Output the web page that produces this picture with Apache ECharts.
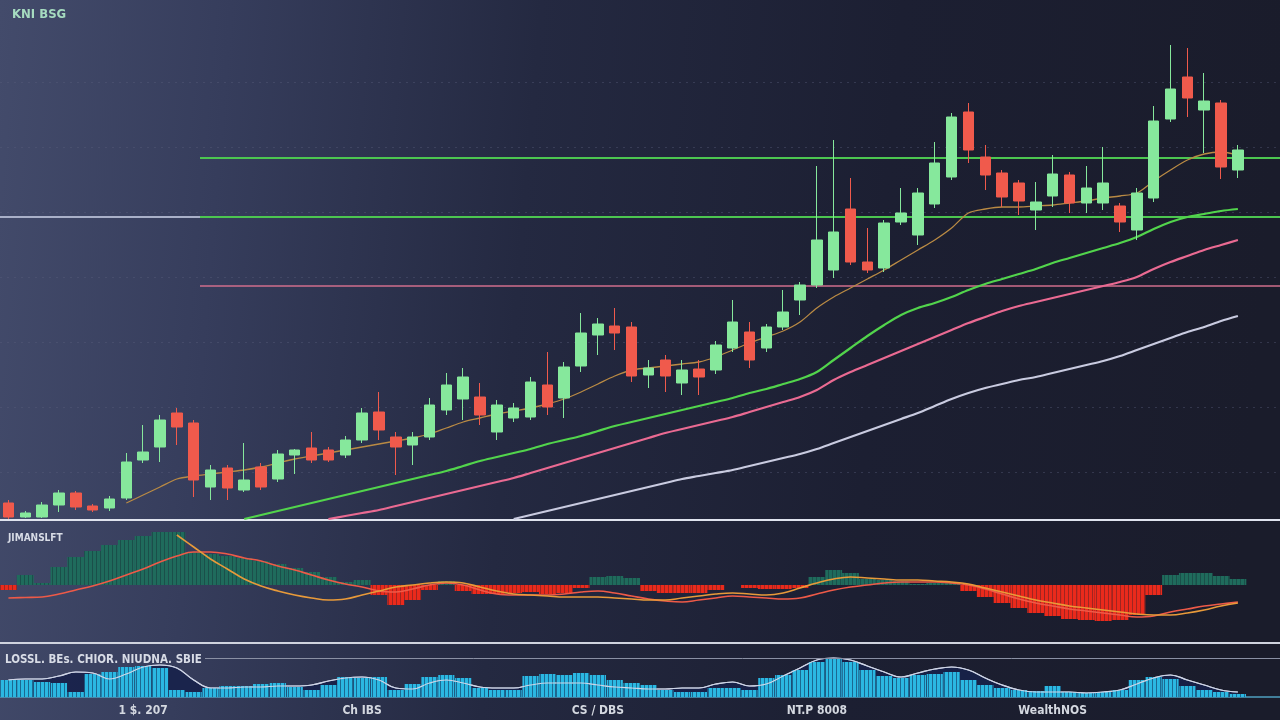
<!DOCTYPE html>
<html><head><meta charset="utf-8">
<script src="https://cdn.jsdelivr.net/npm/echarts@6/dist/echarts.min.js"></script>
<style>html,body{margin:0;padding:0;background:#1b1e30}#c{width:1280px;height:720px}</style>
</head><body><div id="c"></div>
<script>
// ---- price candles ----
const opens  = [11.7,10.3,10.3,11.5,12.7,11.4,11.2,12.2,16.0,17.3,20.7,19.7,13.3,15.2,13.0,15.3,14.1,16.5,17.2,17.0,16.5,18.0,20.8,18.3,17.5,18.3,21.0,22.1,22.3,18.8,20.2,20.3,23.5,22.2,25.4,28.5,29.4,29.3,24.5,26.0,23.7,25.1,25.0,27.2,28.8,27.2,29.3,32.0,33.5,35.0,41.1,35.8,35.2,39.8,38.5,41.6,44.3,50.8,46.3,44.7,43.7,41.0,42.4,44.5,41.7,41.7,41.4,39.0,42.2,50.1,54.3,51.0,51.7,45.0];
const closes = [10.3,10.7,11.5,12.7,11.3,11.0,12.1,15.8,16.8,20.0,19.3,14.0,15.0,13.2,14.0,13.3,16.6,17.0,16.0,16.0,18.0,20.7,19.0,17.3,18.3,21.5,23.5,24.3,20.5,21.5,21.2,23.8,21.3,25.3,28.7,29.6,28.7,24.4,25.2,24.4,25.0,24.3,27.5,29.8,26.0,29.3,30.8,33.5,38.0,38.8,35.8,35.0,39.7,40.7,42.7,45.7,50.3,47.0,44.5,42.3,41.9,41.8,44.6,41.7,43.2,43.7,39.8,42.7,49.9,53.1,52.2,51.9,45.3,47.0];
const lows   = [10.1,10.2,10.2,10.8,11.0,10.8,10.9,12.0,15.7,15.8,17.5,12.3,12.0,12.0,12.8,13.0,13.8,14.6,15.7,15.8,16.2,17.7,18.0,14.5,15.5,18.0,20.5,20.0,19.5,18.0,19.8,20.0,20.5,20.2,24.8,26.5,27.0,23.8,23.2,22.8,22.5,22.5,24.6,26.8,25.2,26.8,29.0,30.5,33.2,34.2,35.5,34.7,34.8,39.5,37.5,41.2,44.0,45.7,43.0,41.3,40.5,39.0,41.3,40.7,40.7,41.0,38.8,38.0,41.8,49.8,50.3,46.7,44.1,44.2];
const highs  = [12.0,10.9,11.8,13.0,12.9,11.6,12.4,16.7,19.5,20.5,21.2,20.0,15.5,15.5,17.7,15.7,17.0,17.1,18.8,17.3,18.4,21.2,22.8,18.8,18.8,22.2,24.7,25.2,23.7,22.0,21.7,24.3,26.8,25.8,30.7,30.2,31.2,29.8,26.0,26.5,26.0,26.0,27.9,32.0,29.8,29.6,33.0,33.8,45.4,48.0,44.2,39.2,40.0,43.2,43.2,47.8,50.7,51.7,47.5,45.0,44.0,43.8,46.5,44.8,45.4,47.3,41.7,43.2,51.4,57.5,57.2,54.7,52.0,47.5];

// ---- moving averages ----
const maShort = [null,null,null,null,null,null,null,11.7,12.5,13.3,14.1,14.4,14.6,14.8,15.0,15.3,15.7,16.1,16.4,16.7,17.0,17.3,17.6,17.9,18.2,18.6,19.2,19.8,20.2,20.6,20.9,21.2,21.6,22.1,22.8,23.6,24.4,25.0,25.2,25.4,25.6,25.8,26.3,27.0,27.7,28.3,28.9,29.8,31.2,32.3,33.2,34.1,35.0,36.0,37.0,38.0,39.2,40.7,41.1,41.3,41.3,41.4,41.5,41.7,41.9,42.2,42.4,42.7,43.9,45.0,46.0,46.6,46.8,46.5];
const maGreen = [null,null,null,null,null,null,null,null,null,null,null,null,null,null,10.1,10.5,10.9,11.3,11.7,12.1,12.5,12.9,13.3,13.7,14.1,14.5,14.9,15.4,15.9,16.3,16.7,17.1,17.6,18.0,18.4,18.9,19.4,19.8,20.2,20.6,21.0,21.4,21.8,22.2,22.7,23.1,23.6,24.1,24.8,26.0,27.2,28.4,29.5,30.5,31.2,31.7,32.3,33.0,33.6,34.1,34.6,35.1,35.7,36.2,36.7,37.2,37.7,38.3,39.1,39.8,40.3,40.6,40.9,41.1];
const maPink = [null,null,null,null,null,null,null,null,null,null,null,null,null,null,null,null,null,null,null,10.1,10.4,10.7,11.0,11.4,11.8,12.2,12.6,13.0,13.4,13.8,14.2,14.7,15.2,15.7,16.2,16.7,17.2,17.7,18.2,18.7,19.1,19.5,19.9,20.3,20.8,21.3,21.8,22.3,23.0,24.0,24.8,25.5,26.2,26.9,27.6,28.3,29.0,29.7,30.3,30.9,31.4,31.8,32.2,32.6,33.0,33.4,33.8,34.3,35.1,35.8,36.4,37.0,37.5,38.0];
const maGrey = [null,null,null,null,null,null,null,null,null,null,null,null,null,null,null,null,null,null,null,null,null,null,null,null,null,null,null,null,null,null,10.1,10.5,10.9,11.3,11.7,12.1,12.5,12.9,13.3,13.7,14.1,14.4,14.7,15.0,15.4,15.8,16.2,16.6,17.1,17.7,18.3,18.9,19.5,20.1,20.7,21.4,22.1,22.7,23.2,23.6,24.0,24.3,24.7,25.1,25.5,25.9,26.4,27.0,27.6,28.2,28.8,29.3,29.9,30.4];
const levels = [46.2, 40.3, 33.4];

// ---- MACD ----
const macdHist = [-0.5,1.0,0.2,1.8,2.8,3.4,4.0,4.5,4.9,5.3,5.3,3.3,3.1,2.9,2.7,2.4,2.1,1.7,1.3,0.8,0.3,0.5,-1.0,-2.0,-1.5,-0.5,0.4,-0.6,-0.9,-0.9,-0.8,-0.7,-0.9,-0.8,-0.3,0.8,0.9,0.7,-0.6,-0.8,-0.8,-0.8,-0.5,0.0,-0.3,-0.4,-0.4,-0.3,0.8,1.5,1.2,0.6,0.5,0.4,0.1,0.2,0.3,-0.6,-1.2,-1.8,-2.3,-2.8,-3.1,-3.4,-3.5,-3.6,-3.5,-3.0,-1.0,1.0,1.2,1.2,0.9,0.6];
const dif = [-1.3,-1.25,-1.2,-0.9,-0.5,-0.1,0.4,1.0,1.6,2.3,2.9,3.3,3.3,3.1,2.7,2.4,1.9,1.5,1.0,0.5,0.1,-0.2,-0.6,-0.7,-0.4,0.0,0.2,0.0,-0.5,-0.9,-1.0,-1.0,-1.0,-0.9,-0.7,-0.6,-0.8,-1.1,-1.4,-1.6,-1.7,-1.5,-1.3,-1.1,-1.2,-1.3,-1.4,-1.3,-0.9,-0.5,-0.2,0.0,0.2,0.3,0.3,0.3,0.2,0.0,-0.4,-0.9,-1.4,-1.8,-2.1,-2.4,-2.6,-2.8,-3.0,-3.2,-3.1,-2.7,-2.4,-2.1,-1.9,-1.7];
const dea = [null,null,null,null,null,null,null,null,null,null,5.0,3.8,2.6,1.6,0.6,-0.1,-0.6,-1.0,-1.3,-1.5,-1.4,-1.0,-0.6,-0.2,0.0,0.2,0.3,0.2,-0.2,-0.6,-0.9,-1.0,-1.1,-1.2,-1.2,-1.2,-1.3,-1.4,-1.5,-1.5,-1.3,-1.1,-0.9,-0.8,-0.9,-1.0,-0.8,-0.3,0.2,0.6,0.8,0.7,0.6,0.5,0.5,0.4,0.3,0.1,-0.3,-0.7,-1.1,-1.5,-1.8,-2.1,-2.3,-2.5,-2.7,-2.9,-3.0,-3.0,-2.8,-2.5,-2.1,-1.8];

// ---- volume ----
const volume = [1700,1700,1500,1400,500,2300,2500,3000,3100,2900,700,500,900,1100,1100,1300,1400,1000,700,1200,2000,1900,2000,700,1300,2000,2200,1900,900,700,700,2100,2300,2200,2400,2200,1700,1400,1200,700,500,500,900,900,700,1900,2200,2700,3500,3900,3500,2700,2100,1900,2200,2300,2500,1700,1200,900,700,600,1100,500,400,500,700,1700,2000,1800,1100,700,500,300];
const volumeLine = [1700,1800,1800,2100,2500,2400,1800,2300,3000,3200,2900,1700,900,900,1000,1000,1100,1100,1200,1600,1900,2000,1700,900,800,1400,1700,1400,1000,900,900,1200,1400,1400,1400,1200,1000,900,800,800,900,900,1300,1500,1100,1300,2100,2900,3700,3900,3700,3100,2500,2000,2400,2800,3000,2700,1900,1200,700,500,500,500,400,500,700,1300,1900,2200,1700,1200,700,500];
const volumeRule = 3900;

// ---- labels ----
const tickIndex = [8, 21, 35, 48, 62];
const tickText = ['1 $. 207', 'Ch IBS', 'CS / DBS', 'NT.P 8008', 'WealthNOS'];
const titleMain = 'KNI BSG';
const titleMacd = 'JIMANSLFT';
const titleVolume = 'LOSSL. BEs. CHIOR. NIUDNA. SBIE';
const categories = [];
for (let i = 0; i < 76; i++) categories.push('P' + (i + 1));
const LAST = categories.length - 1;

const candles = opens.map((o, i) => [o, closes[i], lows[i], highs[i]]);

const FONT = "'Liberation Sans Narrow','DejaVu Sans Condensed',sans-serif";
const chart = echarts.init(document.getElementById('c'), null, {renderer: 'canvas'});

function hiddenX(grid, extra) {
  return Object.assign({
    type: 'category', gridIndex: grid, data: categories, boundaryGap: true,
    axisLabel: {show: false}, axisTick: {show: false}, splitLine: {show: false},
    axisLine: {show: false, onZero: false}
  }, extra || {});
}
function lvl(v, x0, x1, color, width) {
  return [{x: x0, coord: [0, v], lineStyle: {color: color, width: width, type: 'solid'}}, {x: x1, coord: [LAST, v]}];
}
const stripes = (c) => ({symbol: 'rect', symbolSize: 1, dashArrayX: [[1, 3]], dashArrayY: [6, 0], color: c});

chart.setOption({
  animation: false,
  backgroundColor: {type: 'linear', x: 0, y: 0, x2: 1, y2: 0.15, colorStops: [
    {offset: 0, color: '#434b6b'}, {offset: 0.18, color: '#363d5c'},
    {offset: 0.42, color: '#242941'}, {offset: 0.7, color: '#1c1f32'}, {offset: 1, color: '#1a1c2b'}]},
  title: [
    {text: titleMain, left: 7, top: 3, textStyle: {color: '#a6dcc0', fontSize: 13, fontWeight: 'bold', fontFamily: FONT}},
    {text: titleMacd, left: 3, top: 528, textStyle: {color: '#d8dce6', fontSize: 10, fontWeight: 'bold', fontFamily: FONT}},
    {text: titleVolume, left: 0, top: 649, textStyle: {color: '#d8dce6', fontSize: 11.5, fontWeight: 'bold', fontFamily: FONT}}
  ],
  grid: [
    {left: 0, right: 0, top: 17, bottom: 183},
    {left: 0, right: 0, top: 520, bottom: 77},
    {left: 0, right: 0, top: 650, bottom: 23}
  ],
  xAxis: [
    hiddenX(0),
    hiddenX(1, {position: 'top', axisLine: {show: true, onZero: false, lineStyle: {color: '#dfe3ee', width: 2}}}),
    hiddenX(1, {position: 'bottom', axisLine: {show: true, onZero: false, lineStyle: {color: '#cfd3de', width: 2}}}),
    hiddenX(2, {position: 'bottom',
      axisLine: {show: true, onZero: false, lineStyle: {color: '#4f9fc0', width: 1.5}},
      axisLabel: {show: true, interval: 0, margin: 8, color: '#d4d8e0', fontSize: 12, fontWeight: 'bold', fontFamily: FONT,
        formatter: (v, idx) => { const k = tickIndex.indexOf(idx); return k >= 0 ? tickText[k] : ''; }}})
  ],
  yAxis: [
    {type: 'value', gridIndex: 0, min: 8.3, max: 60.3, interval: 6.5, axisLabel: {show: false}, axisLine: {show: false}, axisTick: {show: false},
      splitLine: {show: true, showMinLine: false, showMaxLine: false, lineStyle: {color: '#59607e', type: [2, 5], width: 1, opacity: 0.4}}},
    {type: 'value', gridIndex: 1, min: -5.8, max: 6.5, show: false},
    {type: 'value', gridIndex: 2, min: 0, max: 4700, show: false}
  ],
  series: [
    {type: 'candlestick', name: 'Price', xAxisIndex: 0, yAxisIndex: 0, data: candles, barWidth: 11, z: 5,
      itemStyle: {color: '#86e89c', color0: '#f05a4c', borderColor: '#86e89c', borderColor0: '#f05a4c', borderWidth: 1},
      markLine: {symbol: 'none', silent: true, label: {show: false}, animation: false, z: 2,
        data: [
          lvl(levels[0], 200, 1280, '#4cc650', 2),
          lvl(levels[1], 200, 1280, '#4cc650', 2),
          lvl(levels[1], 0, 200, '#a9b0c8', 2),
          lvl(levels[2], 200, 1280, '#d06e8c', 1.5)
        ]}},
    {type: 'line', name: 'MA short', xAxisIndex: 0, yAxisIndex: 0, data: maShort, smooth: 0.3, symbol: 'none', z: 4,
      lineStyle: {color: '#b98a44', width: 1.3}},
    {type: 'line', name: 'MA green', xAxisIndex: 0, yAxisIndex: 0, data: maGreen, smooth: 0.3, symbol: 'none', z: 3,
      lineStyle: {color: '#52d44c', width: 2.2}},
    {type: 'line', name: 'MA pink', xAxisIndex: 0, yAxisIndex: 0, data: maPink, smooth: 0.3, symbol: 'none', z: 3,
      lineStyle: {color: '#ea6a92', width: 2.2}},
    {type: 'line', name: 'MA grey', xAxisIndex: 0, yAxisIndex: 0, data: maGrey, smooth: 0.3, symbol: 'none', z: 3,
      lineStyle: {color: '#c9cbe0', width: 2.2}},

    {type: 'bar', name: 'MACD', xAxisIndex: 1, yAxisIndex: 1, data: macdHist, barCategoryGap: '0%',
      itemStyle: {color: p => p.value >= 0 ? '#1f6b5c' : '#ea2a1c', decal: stripes('rgba(20,30,40,0.35)')}},
    {type: 'line', name: 'DIF', xAxisIndex: 1, yAxisIndex: 1, data: dif, smooth: 0.4, symbol: 'none',
      lineStyle: {color: '#ee5a48', width: 1.6}},
    {type: 'line', name: 'DEA', xAxisIndex: 1, yAxisIndex: 1, data: dea, smooth: 0.4, symbol: 'none',
      lineStyle: {color: '#e89a3a', width: 1.6}},

    {type: 'line', name: 'Volume trend', xAxisIndex: 3, yAxisIndex: 2, data: volumeLine, smooth: 0.4, symbol: 'none', z: 1,
      lineStyle: {color: '#c4cbe0', width: 1.2}, areaStyle: {color: '#17214a', opacity: 0.9}},
    {type: 'bar', name: 'Volume', xAxisIndex: 3, yAxisIndex: 2, data: volume, barCategoryGap: '4%', z: 2,
      itemStyle: {color: '#2bb8e2', decal: stripes('rgba(14,40,80,0.55)')},
      markLine: {symbol: 'none', silent: true, label: {show: false}, animation: false,
        data: [lvl(volumeRule, 205, 1280, '#8a90a4', 1)]}},
    {type: 'line', name: 'Volume trend top', xAxisIndex: 3, yAxisIndex: 2, data: volumeLine, smooth: 0.4, symbol: 'none', z: 3,
      lineStyle: {color: '#cfd5e6', width: 1.2}}
  ]
});
</script>
</body></html>
